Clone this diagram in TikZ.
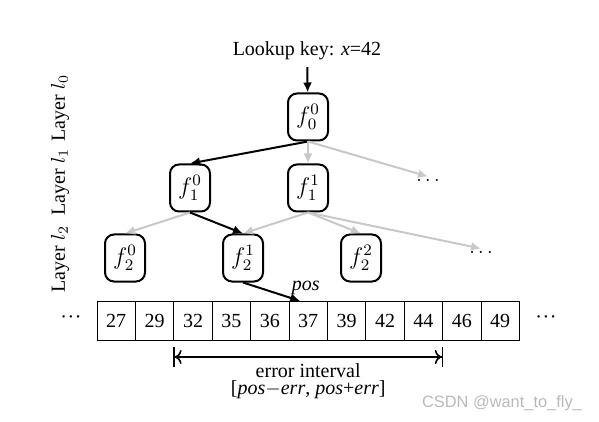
\documentclass[tikz,border=0pt]{standalone}
\usepackage{amsmath}
\usepackage{fontspec}
\setmainfont{Liberation Serif}
\newfontfamily\markfont{Liberation Sans}
\usepackage{tikz}
\usetikzlibrary{arrows.meta}
\usetikzlibrary{calc}
\definecolor{lightarrow}{RGB}{200,200,200}
\definecolor{markgray}{RGB}{185,185,185}

\begin{document}
\begin{tikzpicture}[x=0.5pt, y=-0.5pt,
        model/.style={draw=black, line width=1pt, rounded corners=4.5pt, minimum width=20pt, minimum height=23.5pt, inner sep=0pt, font=\large},
        cell/.style={draw=black, line width=0.5pt, minimum width=19.2pt, minimum height=19.5pt, inner sep=0pt},
        used/.style={draw=black, line width=1pt, -{Latex[length=5pt, width=4.5pt]}},
        unused/.style={draw=lightarrow, line width=1pt, -{Latex[length=5pt, width=4.5pt]}},
        bound/.style={draw=black, line width=0.8pt, -{To[sep=0pt]Bar[width=10pt]}}]
        \useasboundingbox (0,0) rectangle (599,422);

        % layer labels
        \node[rotate=90] (L0) at (60,108) {Layer $l_0$};
        \node[rotate=90] (L1) at (60,182) {Layer $l_1$};
        \node[rotate=90] (L2) at (60,259) {Layer $l_2$};

        % models
        \node (key) at (307,51) {Lookup key: \textit{x}=42};
        \node[model] (F00) at (308,117) {$f_0^0$};
        \node[model] (F10) at (190,188) {$f_1^0$};
        \node[model] (F11) at (308,188) {$f_1^1$};
        \node[model] (F20) at (125,258) {$f_2^0$};
        \node[model] (F21) at (243,258) {$f_2^1$};
        \node[model] (F22) at (361,258) {$f_2^2$};
        \node[inner sep=1pt] (D1) at (428,180) {$\ldots$};
        \node[inner sep=1pt] (D2) at (481,252) {$\ldots$};

        % sorted keys
        \foreach \v [count=\i] in {27,29,32,35,36,37,39,42,44,46,49}
            \node[cell] (c\i) at ({97+38.4*(\i-0.5)},321) {\v};
        \node (dl) at (71,320) {·\kern0.3pt·\kern0.3pt·};
        \node (dr) at (546,320) {·\kern0.3pt·\kern0.3pt·};

        \draw[used] (key) -- (F00);
        \draw[used] (F00.south) -- (F10.north);
        \draw[unused] (F00.south) -- (F11.north);
        \draw[unused] (F00.south) -- (D1.north);
        \draw[unused] (F10.south) -- (F20.north);
        \draw[used] (F10.south) -- (F21.north);
        \draw[unused] (F11.south) -- (F21.north);
        \draw[unused] (F11.south) -- (F22.north);
        \draw[unused] (F11.south) -- (D2.north);
        \draw[used] (F21.south) -- ([xshift=-4pt]c6.north)
            node[pos=0.8, above right, inner sep=1pt, xshift=0pt] {\textit{pos}};

        % error interval
        \coordinate (el) at (c3.south west |- 0,357);
        \coordinate (er) at (c9.south east |- 0,357);
        \coordinate (em) at ($(el)!0.5!(er)$);
        \draw[bound] (em) -- (el);
        \draw[bound] (em) -- (er);
        \node[below=0pt, align=center, font=\fontsize{10}{8.5}\selectfont] (errtext) at (em)
            {error interval\\ {[}\textit{pos}$-$\textit{err}, \textit{pos}+\textit{err}]};

        \node[text=markgray, font=\markfont\fontsize{8.2}{10}\selectfont] (mark) at (502,403) {CSDN @want\_to\_fly\_};
    \end{tikzpicture}
\end{document}
